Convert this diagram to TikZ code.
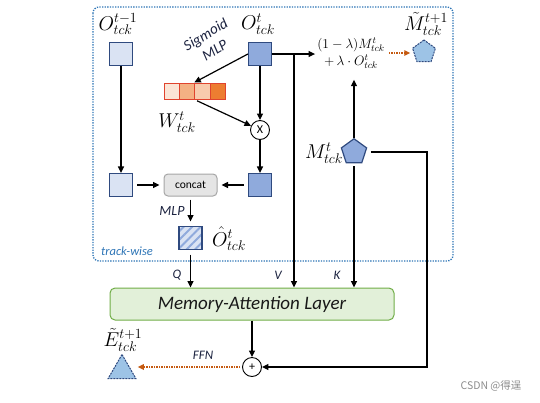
\RequirePackage{fix-cm}
\documentclass[tikz,border=0pt]{standalone}
\usepackage[no-math]{fontspec}
\setmainfont{Carlito}
\newfontfamily\cjk{Noto Sans CJK SC}
\usetikzlibrary{arrows.meta,shapes.geometric,patterns.meta}
\definecolor{boxblue}{HTML}{2E75B6}
\definecolor{navy}{HTML}{2F4A7F}
\definecolor{navytext}{HTML}{1C2340}
\definecolor{lightblue}{HTML}{DAE3F3}
\definecolor{midblue}{HTML}{8FAADC}
\definecolor{skyblue}{HTML}{9DC3E6}
\definecolor{cellred}{HTML}{E0442E}
\definecolor{wcella}{HTML}{FBE5D6}
\definecolor{wcellb}{HTML}{F4B183}
\definecolor{wcellc}{HTML}{F8CBAD}
\definecolor{wcelld}{HTML}{ED7D31}
\definecolor{ffnorange}{HTML}{C55A11}
\definecolor{layergreen}{HTML}{E2F0D9}
\definecolor{layerborder}{HTML}{70AD47}
\begin{document}
\begin{tikzpicture}[x=1pt,y=-1pt]
	\tikzstyle{token}=[rectangle,line width=1.2pt,draw=navy,minimum size=23pt,inner sep=0pt]
	\tikzstyle{prev}=[token,fill=lightblue]
	\tikzstyle{cur}=[token,fill=midblue]
	\tikzstyle{cell}=[rectangle,draw=cellred,line width=1pt,minimum width=15.4pt,minimum height=16pt,inner sep=0pt]
	\tikzstyle{op}=[circle,draw=black,line width=0.9pt,minimum size=19pt,inner sep=0pt,font=\fontsize{12}{12}\selectfont]
	\tikzstyle{sym}=[inner sep=0pt,font=\fontsize{20}{22}\selectfont]
	\tikzstyle{note}=[inner sep=0pt,text=navytext,font=\fontsize{13}{15}\selectfont\itshape]
	\tikzstyle{memory}=[regular polygon,regular polygon sides=5,inner sep=0pt]
	\tikzstyle{future}=[fill=skyblue,draw=navy,line width=1pt,dash pattern=on 2pt off 1pt]
	\tikzstyle{flow}=[line width=1.2pt,-{Triangle[length=6.5pt,width=6pt]}]
	\tikzstyle{update}=[draw=ffnorange,line width=1.5pt,dash pattern=on 1.5pt off 1pt,-{Triangle[length=6pt,width=5.5pt]}]
	\useasboundingbox (0,0) rectangle (540,402);
	\begin{scope}
		\draw[boxblue,line width=1.3pt,dash pattern=on 1.3pt off 1.3pt,rounded corners=6pt] (93,7) rectangle (453,261);
		\node[note,text=boxblue,font=\fontsize{12.5}{14}\selectfont\itshape] (trackwise) at (127,251) {track-wise};
		\node [prev] (oprev) at (121,54) {};
		\node [sym] (oprevlbl) at (118,24) {$O^{t-1}_{tck}$};
		\node [cur] (ocur) at (260,54) {};
		\node [sym] (ocurlbl) at (258,24) {$O^{t}_{tck}$};
		\node [note,rotate=31,align=center,font=\fontsize{15}{18}\selectfont\itshape] (sigmoid) at (210,42) {Sigmoid\\MLP};
		\foreach \c [count=\i] in {wcella,wcellb,wcellc,wcelld}
			\node [cell,fill=\c] (w\i) at (156.3+15.4*\i,91) {};
		\node [sym] (wlbl) at (177,122) {$W^{t}_{tck}$};
		\node [op] (mult) at (260,130) {X};
		\node [prev] (sql) at (121,185) {};
		\node [cur] (sqr) at (260,185) {};
		\node [rectangle,rounded corners=4pt,draw=black!35,fill=black!10,line width=1pt,minimum width=53pt,minimum height=22pt,font=\fontsize{11.5}{13}\selectfont] (concat) at (190.5,185) {concat};
		\node [token,preaction={fill=lightblue},pattern={Lines[angle=45,distance=6pt,line width=2pt]},pattern color=midblue] (ohat) at (190.5,238) {};
		\node [sym] (ohatlbl) at (229,239) {$\hat{O}^{t}_{tck}$};
		\node [note,font=\fontsize{14}{16}\selectfont\itshape] (mlp) at (172,211) {MLP};
		\node [align=center,inner sep=2pt,font=\fontsize{13.5}{17}\selectfont] (fuse) at (351,53) {$(1-\lambda)M^{t}_{tck}$\\$+\,\lambda\cdot O^{t}_{tck}$};
		\node [memory,future,minimum size=24pt] (mnext) at (424,52) {};
		\node [sym] (mnextlbl) at (426,24) {$\tilde{M}^{t+1}_{tck}$};
		\node [memory,fill=midblue,draw=navy,line width=1.2pt,minimum size=26.5pt] (mcur) at (354,152) {};
		\node [sym] (mcurlbl) at (324,153) {$M^{t}_{tck}$};
		\coordinate (vsplit) at (294,54);
		\coordinate (turn) at (427,152);
	\end{scope}
	\node [rectangle,rounded corners=5pt,fill=layergreen,draw=layerborder,line width=1pt,minimum width=284pt,minimum height=32pt,text=black!90,font=\fontsize{19}{22}\selectfont\itshape] (mem) at (252,304) {Memory-Attention Layer};
	\node [note] (qlbl) at (177,275) {Q};
	\node [note] (vlbl) at (278,275) {V};
	\node [note] (klbl) at (337,275) {K};
	\node [op] (plus) at (252,367) {+};
	\node [note] (ffn) at (203,355) {FFN};
	\node [regular polygon,regular polygon sides=3,inner sep=0pt,minimum size=32pt,future] (enext) at (122,370.5) {};
	\node [sym] (enextlbl) at (123,340) {$\tilde{E}^{t+1}_{tck}$};
	\node [text=black!45,font=\cjk\fontsize{10.5}{12}\selectfont] (mark) at (491,386) {CSDN @得逞};
	\draw[flow] (oprev) -- (sql);
	\draw[flow] (ocur) -- (mult);
	\draw[flow] (mult) -- (sqr);
	\draw[flow] (ocur.west) -- (w3.north west);
	\draw[flow,shorten <=3pt] (w3.south west) -- (mult);
	\draw[flow,shorten <=4pt,shorten >=4pt] (sql) -- (concat);
	\draw[flow,shorten <=4pt,shorten >=4pt] (sqr) -- (concat);
	\draw[flow,shorten <=3pt,shorten >=4pt] (concat) -- (ohat);
	\draw[flow,shorten <=4pt] (ohat.south) -- (ohat.south |- mem.north);
	\draw[flow] (ocur.east) -- (ocur.east -| fuse.west);
	\draw[flow] (vsplit) -- (vsplit |- mem.north);
	\draw[flow,shorten >=9pt] (mcur.north) -- (mcur.north |- fuse.south);
	\draw[flow,shorten <=3pt] (mcur.south) -- (mcur.south |- mem.north);
	\draw[flow,shorten <=5pt] (mcur.east) -- (turn) -- (turn |- plus) -- (plus);
	\draw[flow] (mem) -- (plus);
	\draw[update,shorten <=2pt,shorten >=6pt] (plus.west) -- (plus.west -| enext.east);
	\draw[update,shorten <=2pt,shorten >=3pt] (fuse.east) -- (fuse.east -| mnext.west);
\end{tikzpicture}
\end{document}
